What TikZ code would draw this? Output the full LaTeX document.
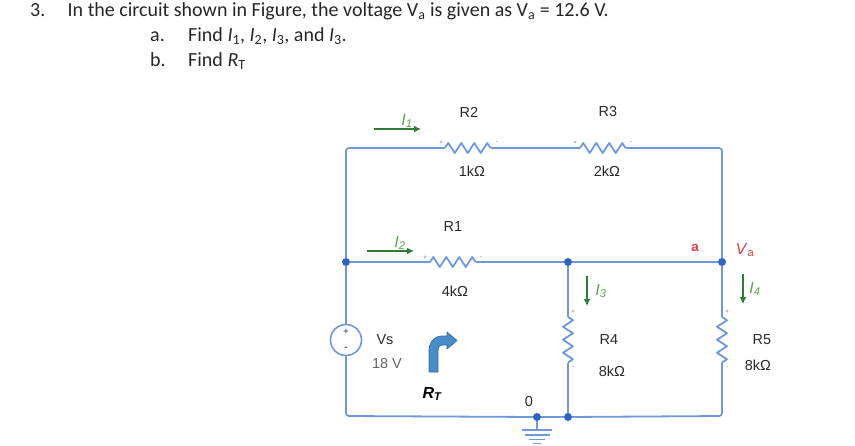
\documentclass[tikz,border=0pt]{standalone}
\usepackage{fontspec}
\setmainfont{Liberation Sans}
\newfontfamily\bodyfont{Carlito}
\usetikzlibrary{arrows.meta}
\definecolor{wirec}{HTML}{6F97DC}
\definecolor{dotc}{HTML}{2F62C4}
\definecolor{greenc}{HTML}{2E7D32}
\definecolor{lgreen}{HTML}{5E9E58}
\definecolor{redc}{HTML}{E0404A}
\definecolor{txtc}{HTML}{2A2A2A}
\definecolor{grayc}{HTML}{666666}
\definecolor{bluearrow}{HTML}{4A8CC8}
\definecolor{bluedge}{HTML}{2F6FA8}
\tikzset{
 x=1pt,y=-1pt,
 wire/.style={draw=wirec,line width=1.8pt,rounded corners=3pt},
 dotn/.style={circle,fill=dotc,inner sep=0pt,minimum size=8pt},
 lab/.style={inner sep=0pt,font=\fontsize{14.5}{16}\selectfont,text=txtc},
 vallab/.style={lab,text=grayc},
 bodyt/.style={inner sep=0pt,anchor=base west,font=\bodyfont\fontsize{20}{23}\selectfont,text=black!85},
 cur/.style={draw=greenc,line width=1.6pt,-{Latex[length=7pt,width=7pt]}},
 curlab/.style={inner sep=0pt,font=\fontsize{16}{18}\selectfont\itshape,text=lgreen},
 pm/.style={inner sep=0pt,font=\fontsize{6}{6}\selectfont,text=grayc},
 gnd/.style={draw=wirec,line width=1.5pt},
}
\newcommand{\hzig}[3]{\draw[wirec,line width=1.8pt,line join=round] (#1,#3)--++(3.25,-5)--++(6.5,10)--++(6.5,-10)--++(6.5,10)--++(6.5,-10)--++(6.5,10)--++(6.5,-10)--++(3.25,5);}
\newcommand{\vzig}[3]{\draw[wirec,line width=1.8pt,line join=round] (#1,#2)--++(5,3.25)--++(-10,6.5)--++(10,6.5)--++(-10,6.5)--++(10,6.5)--++(-10,6.5)--++(10,6.5)--++(-5,3.25);}
\begin{document}
\begin{tikzpicture}
\useasboundingbox (0,0) rectangle (855,445);
% text
\node[bodyt] (t1) at (30,16) {3.};
\node[bodyt] (t2) at (67.5,16) {In the circuit shown in Figure, the voltage V\textsubscript{a} is given as V\textsubscript{a} = 12.6 V.};
\node[bodyt] (t3) at (150,41) {a.};
\node[bodyt] (t4) at (188,41) {Find \textit{I}\textsubscript{1}, \textit{I}\textsubscript{2}, \textit{I}\textsubscript{3}, and \textit{I}\textsubscript{3}.};
\node[bodyt] (t5) at (150,66) {b.};
\node[bodyt] (t6) at (188,66) {Find \textit{R}\textsubscript{T}};
% junctions and corners
\coordinate (tl) at (346,148);
\coordinate (tr) at (722,148);
\coordinate (bl) at (346,416);
\coordinate (br) at (722,416);
\node[dotn] (jl) at (346,262) {};
\node[dotn] (jm) at (568,262) {};
\node[dotn] (jr) at (722,262) {};
\node[dotn] (jb) at (568,417) {};
\node[dotn] (jg) at (537,417) {};
% wires
\node[circle,draw=wirec,line width=1.6pt,minimum size=31pt,inner sep=0pt] (vs) at (346,340) {};
\draw[wire] (jl) -- (tl) -- (445,148);
\draw[wire] (490.5,148) -- (580,148);
\draw[wire] (625.5,148) -- (tr) -- (jr);
\draw[wire] (jl) -- (430,262);
\draw[wire] (475.5,262) -- (jm) -- (jr);
\draw[wire] (jl) -- (vs);
\draw[wire] (vs) -- (bl) -- (jg) -- (jb) -- (br) -- (722,362.5);
\draw[wire] (jr) -- (722,317);
\draw[wire] (jm) -- (568,317);
\draw[wire] (568,362.5) -- (jb);
\hzig{445}{0}{148}
\hzig{580}{0}{148}
\hzig{430}{0}{262}
\vzig{568}{317}{0}
\vzig{722}{317}{0}
% source marks
\node[inner sep=0pt,font=\fontsize{9}{9}\selectfont\bfseries,text=wirec!70!black] (vp) at (346,332) {+};
\node[inner sep=0pt,font=\fontsize{10}{10}\selectfont\bfseries,text=wirec!70!black] (vm) at (346,349) {-};
% small polarity marks
\node[pm] at (441,143) {+}; \node[pm] at (497,143) {-};
\node[pm] at (575,143) {+}; \node[pm] at (631,143) {-};
\node[pm] at (425,258) {+}; \node[pm] at (481,258) {-};
\node[pm] at (573,312) {+}; \node[pm] at (573,368) {-};
\node[pm] at (727,312) {+}; \node[pm] at (727,368) {-};
% ground
\coordinate (g0) at (537,430);
\draw[gnd] (jg) -- (g0);
\draw[gnd] (522,430) -- (552,430);
\draw[gnd] (525,435) -- (550,435);
\draw[gnd] (529,439.5) -- (545,439.5);
\draw[gnd] (533,443.5) -- (541,443.5);
% labels
\node[lab] (r2) at (469,112) {R2};
\node[lab] (r3) at (608,112) {R3};
\node[lab] (v2) at (472,171) {1kΩ};
\node[lab] (v3) at (607,171) {2kΩ};
\node[lab] (r1) at (453,227) {R1};
\node[lab] (v1) at (455,291) {4kΩ};
\node[lab] (vsl) at (385,340) {Vs};
\node[vallab] (vsv) at (387,364) {18 V};
\node[lab] (r4) at (609,340) {R4};
\node[lab] (v4) at (612,371) {8kΩ};
\node[lab] (r5) at (762,340) {R5};
\node[lab] (v5) at (758,365) {8kΩ};
\node[lab] (zero) at (529,402) {0};
\node[inner sep=0pt,font=\fontsize{16}{18}\selectfont\bfseries\itshape] (rt) at (432,394) {R\textsubscript{T}};
\node[inner sep=0pt,font=\fontsize{13.5}{15}\selectfont\bfseries,text=redc] (a) at (695,248) {a};
\node[inner sep=0pt,font=\fontsize{16}{18}\selectfont,text=redc] (va) at (745,250) {\textit{V}\textsubscript{a}};
% currents
\coordinate (c1a) at (374,129); \coordinate (c1b) at (421,129);
\coordinate (c2a) at (367,251); \coordinate (c2b) at (414,251);
\coordinate (c3a) at (587,276); \coordinate (c3b) at (587,306);
\coordinate (c4a) at (743,274); \coordinate (c4b) at (743,304);
\draw[cur] (c1a) -- (c1b);
\draw[cur] (c2a) -- (c2b);
\draw[cur] (c3a) -- (c3b);
\draw[cur] (c4a) -- (c4b);
\node[curlab] (i1) at (407,121) {I\textsubscript{1}};
\node[curlab] (i2) at (400,243) {I\textsubscript{2}};
\node[curlab] (i3) at (601,291) {I\textsubscript{3}};
\node[curlab] (i4) at (755,289) {I\textsubscript{4}};
% RT arrow
\draw[draw=bluedge,fill=bluearrow,line width=.7pt,line join=round]
 (429,372) -- (429,351) .. controls (429,343) and (433,337) .. (441,336) -- (447,336) -- (447,332) -- (457,340.5) -- (447,349) -- (447,345) -- (442,345) .. controls (439.5,345) and (438,347) .. (438,350) -- (438,372) -- cycle;
\end{tikzpicture}
\end{document}
